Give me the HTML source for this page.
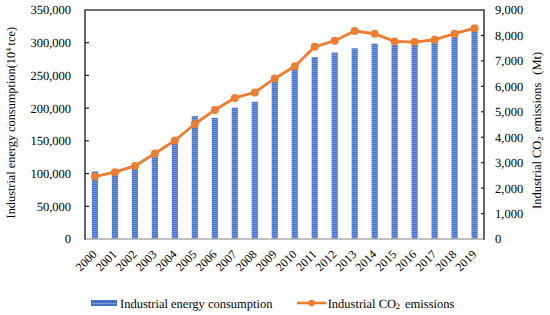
<!DOCTYPE html>
<html><head><meta charset="utf-8"><style>
html,body{margin:0;padding:0;background:#fff;}
body{width:550px;height:315px;overflow:hidden;}
svg{display:block;}
text{font-family:"Liberation Serif",serif;fill:#000;text-rendering:geometricPrecision;}
</style></head><body>
<svg width="550" height="315" viewBox="0 0 550 315">
<defs>
<pattern id="st" x="0" y="0" width="4" height="2" patternUnits="userSpaceOnUse">
<rect x="0" y="0" width="4" height="1" fill="#4270CA"/>
<rect x="0" y="1" width="4" height="1" fill="#7496DA"/>
</pattern>
</defs>
<rect width="550" height="315" fill="#fff"/>

<rect x="91.85" y="171.40" width="6.2" height="67.60" fill="url(#st)"/>
<rect x="111.83" y="170.00" width="6.2" height="69.00" fill="url(#st)"/>
<rect x="131.81" y="167.50" width="6.2" height="71.50" fill="url(#st)"/>
<rect x="151.79" y="155.00" width="6.2" height="84.00" fill="url(#st)"/>
<rect x="171.77" y="142.50" width="6.2" height="96.50" fill="url(#st)"/>
<rect x="191.75" y="116.10" width="6.2" height="122.90" fill="url(#st)"/>
<rect x="211.73" y="118.00" width="6.2" height="121.00" fill="url(#st)"/>
<rect x="231.71" y="107.60" width="6.2" height="131.40" fill="url(#st)"/>
<rect x="251.69" y="101.80" width="6.2" height="137.20" fill="url(#st)"/>
<rect x="271.67" y="80.00" width="6.2" height="159.00" fill="url(#st)"/>
<rect x="291.65" y="69.00" width="6.2" height="170.00" fill="url(#st)"/>
<rect x="311.63" y="57.00" width="6.2" height="182.00" fill="url(#st)"/>
<rect x="331.61" y="52.50" width="6.2" height="186.50" fill="url(#st)"/>
<rect x="351.59" y="48.30" width="6.2" height="190.70" fill="url(#st)"/>
<rect x="371.57" y="43.60" width="6.2" height="195.40" fill="url(#st)"/>
<rect x="391.55" y="44.50" width="6.2" height="194.50" fill="url(#st)"/>
<rect x="411.53" y="44.50" width="6.2" height="194.50" fill="url(#st)"/>
<rect x="431.51" y="42.00" width="6.2" height="197.00" fill="url(#st)"/>
<rect x="451.49" y="36.00" width="6.2" height="203.00" fill="url(#st)"/>
<rect x="471.47" y="31.00" width="6.2" height="208.00" fill="url(#st)"/>
<line x1="85.0" y1="239.0" x2="484.0" y2="239.0" stroke="#ADADAD" stroke-width="1.5"/>
<path d="M85.0 239.75 V10.0 H484.0 V239.75" fill="none" stroke="#404040" stroke-width="1.6"/>
<text x="71.0" y="243.40" font-size="12.5" text-anchor="end">0</text>
<line x1="85.0" y1="206.29" x2="89.0" y2="206.29" stroke="#202020" stroke-width="1.2"/>
<text x="71.0" y="210.69" font-size="12.5" text-anchor="end">50,000</text>
<line x1="85.0" y1="173.57" x2="89.0" y2="173.57" stroke="#202020" stroke-width="1.2"/>
<text x="71.0" y="177.97" font-size="12.5" text-anchor="end">100,000</text>
<line x1="85.0" y1="140.86" x2="89.0" y2="140.86" stroke="#202020" stroke-width="1.2"/>
<text x="71.0" y="145.26" font-size="12.5" text-anchor="end">150,000</text>
<line x1="85.0" y1="108.14" x2="89.0" y2="108.14" stroke="#202020" stroke-width="1.2"/>
<text x="71.0" y="112.54" font-size="12.5" text-anchor="end">200,000</text>
<line x1="85.0" y1="75.43" x2="89.0" y2="75.43" stroke="#202020" stroke-width="1.2"/>
<text x="71.0" y="79.83" font-size="12.5" text-anchor="end">250,000</text>
<line x1="85.0" y1="42.71" x2="89.0" y2="42.71" stroke="#202020" stroke-width="1.2"/>
<text x="71.0" y="47.11" font-size="12.5" text-anchor="end">300,000</text>
<text x="71.0" y="14.40" font-size="12.5" text-anchor="end">350,000</text>
<text x="495.0" y="243.40" font-size="12.5">0</text>
<line x1="481.0" y1="213.56" x2="484.0" y2="213.56" stroke="#202020" stroke-width="1.2"/>
<text x="495.0" y="217.96" font-size="12.5">1,000</text>
<line x1="481.0" y1="188.11" x2="484.0" y2="188.11" stroke="#202020" stroke-width="1.2"/>
<text x="495.0" y="192.51" font-size="12.5">2,000</text>
<line x1="481.0" y1="162.67" x2="484.0" y2="162.67" stroke="#202020" stroke-width="1.2"/>
<text x="495.0" y="167.07" font-size="12.5">3,000</text>
<line x1="481.0" y1="137.22" x2="484.0" y2="137.22" stroke="#202020" stroke-width="1.2"/>
<text x="495.0" y="141.62" font-size="12.5">4,000</text>
<line x1="481.0" y1="111.78" x2="484.0" y2="111.78" stroke="#202020" stroke-width="1.2"/>
<text x="495.0" y="116.18" font-size="12.5">5,000</text>
<line x1="481.0" y1="86.33" x2="484.0" y2="86.33" stroke="#202020" stroke-width="1.2"/>
<text x="495.0" y="90.73" font-size="12.5">6,000</text>
<line x1="481.0" y1="60.89" x2="484.0" y2="60.89" stroke="#202020" stroke-width="1.2"/>
<text x="495.0" y="65.29" font-size="12.5">7,000</text>
<line x1="481.0" y1="35.44" x2="484.0" y2="35.44" stroke="#202020" stroke-width="1.2"/>
<text x="495.0" y="39.84" font-size="12.5">8,000</text>
<text x="495.0" y="14.40" font-size="12.5">9,000</text>
<polyline points="94.95,176.60 114.93,172.20 134.91,165.90 154.89,153.40 174.87,140.50 194.85,124.00 214.83,109.90 234.81,97.90 254.79,92.40 274.77,78.40 294.75,66.30 314.73,46.80 334.71,40.70 354.69,31.00 374.67,33.80 394.65,41.40 414.63,42.10 434.61,39.70 454.59,33.70 474.57,28.20" fill="none" stroke="#ED7D31" stroke-width="2.9" stroke-linejoin="round"/>
<circle cx="94.95" cy="176.60" r="4.0" fill="#ED7D31"/>
<circle cx="114.93" cy="172.20" r="4.0" fill="#ED7D31"/>
<circle cx="134.91" cy="165.90" r="4.0" fill="#ED7D31"/>
<circle cx="154.89" cy="153.40" r="4.0" fill="#ED7D31"/>
<circle cx="174.87" cy="140.50" r="4.0" fill="#ED7D31"/>
<circle cx="194.85" cy="124.00" r="4.0" fill="#ED7D31"/>
<circle cx="214.83" cy="109.90" r="4.0" fill="#ED7D31"/>
<circle cx="234.81" cy="97.90" r="4.0" fill="#ED7D31"/>
<circle cx="254.79" cy="92.40" r="4.0" fill="#ED7D31"/>
<circle cx="274.77" cy="78.40" r="4.0" fill="#ED7D31"/>
<circle cx="294.75" cy="66.30" r="4.0" fill="#ED7D31"/>
<circle cx="314.73" cy="46.80" r="4.0" fill="#ED7D31"/>
<circle cx="334.71" cy="40.70" r="4.0" fill="#ED7D31"/>
<circle cx="354.69" cy="31.00" r="4.0" fill="#ED7D31"/>
<circle cx="374.67" cy="33.80" r="4.0" fill="#ED7D31"/>
<circle cx="394.65" cy="41.40" r="4.0" fill="#ED7D31"/>
<circle cx="414.63" cy="42.10" r="4.0" fill="#ED7D31"/>
<circle cx="434.61" cy="39.70" r="4.0" fill="#ED7D31"/>
<circle cx="454.59" cy="33.70" r="4.0" fill="#ED7D31"/>
<circle cx="474.57" cy="28.20" r="4.0" fill="#ED7D31"/>
<text transform="translate(91.35,248.8) rotate(-45)" font-size="12.0" text-anchor="end" dominant-baseline="hanging">2000</text>
<text transform="translate(111.33,248.8) rotate(-45)" font-size="12.0" text-anchor="end" dominant-baseline="hanging">2001</text>
<text transform="translate(131.31,248.8) rotate(-45)" font-size="12.0" text-anchor="end" dominant-baseline="hanging">2002</text>
<text transform="translate(151.29,248.8) rotate(-45)" font-size="12.0" text-anchor="end" dominant-baseline="hanging">2003</text>
<text transform="translate(171.27,248.8) rotate(-45)" font-size="12.0" text-anchor="end" dominant-baseline="hanging">2004</text>
<text transform="translate(191.25,248.8) rotate(-45)" font-size="12.0" text-anchor="end" dominant-baseline="hanging">2005</text>
<text transform="translate(211.23,248.8) rotate(-45)" font-size="12.0" text-anchor="end" dominant-baseline="hanging">2006</text>
<text transform="translate(231.21,248.8) rotate(-45)" font-size="12.0" text-anchor="end" dominant-baseline="hanging">2007</text>
<text transform="translate(251.19,248.8) rotate(-45)" font-size="12.0" text-anchor="end" dominant-baseline="hanging">2008</text>
<text transform="translate(271.17,248.8) rotate(-45)" font-size="12.0" text-anchor="end" dominant-baseline="hanging">2009</text>
<text transform="translate(291.15,248.8) rotate(-45)" font-size="12.0" text-anchor="end" dominant-baseline="hanging">2010</text>
<text transform="translate(311.13,248.8) rotate(-45)" font-size="12.0" text-anchor="end" dominant-baseline="hanging">2011</text>
<text transform="translate(331.11,248.8) rotate(-45)" font-size="12.0" text-anchor="end" dominant-baseline="hanging">2012</text>
<text transform="translate(351.09,248.8) rotate(-45)" font-size="12.0" text-anchor="end" dominant-baseline="hanging">2013</text>
<text transform="translate(371.07,248.8) rotate(-45)" font-size="12.0" text-anchor="end" dominant-baseline="hanging">2014</text>
<text transform="translate(391.05,248.8) rotate(-45)" font-size="12.0" text-anchor="end" dominant-baseline="hanging">2015</text>
<text transform="translate(411.03,248.8) rotate(-45)" font-size="12.0" text-anchor="end" dominant-baseline="hanging">2016</text>
<text transform="translate(431.01,248.8) rotate(-45)" font-size="12.0" text-anchor="end" dominant-baseline="hanging">2017</text>
<text transform="translate(450.99,248.8) rotate(-45)" font-size="12.0" text-anchor="end" dominant-baseline="hanging">2018</text>
<text transform="translate(470.97,248.8) rotate(-45)" font-size="12.0" text-anchor="end" dominant-baseline="hanging">2019</text>
<text transform="translate(15.0,218.4) rotate(-90)" font-size="12.3">Industrial energy consumption(10<tspan font-size="7.5" dy="-3.7" dx="0.3">4</tspan><tspan dy="3.7" dx="2.5">tce)</tspan></text>
<text transform="translate(541.0,209.0) rotate(-90)" font-size="12.5">Industrial CO<tspan font-size="8" dy="1.5">2</tspan><tspan dy="-1.5" dx="4.6">emissions</tspan><tspan dx="8">(Mt)</tspan></text>
<rect x="91" y="300" width="26" height="6" fill="#4472C4"/><rect x="92" y="303" width="24" height="1" fill="#7C9CDA"/>
<text x="120.0" y="307.7" font-size="12.5">Industrial energy consumption</text>
<line x1="297" y1="303" x2="326.5" y2="303" stroke="#ED7D31" stroke-width="2.6"/>
<circle cx="311.5" cy="303" r="3.2" fill="#ED7D31"/>
<text x="327.7" y="308.0" font-size="12.5">Industrial CO<tspan font-size="8.5" dx="-0.3" dy="1.0">2</tspan><tspan dy="-1.0" dx="5.0">emissions</tspan></text>
</svg></body></html>
